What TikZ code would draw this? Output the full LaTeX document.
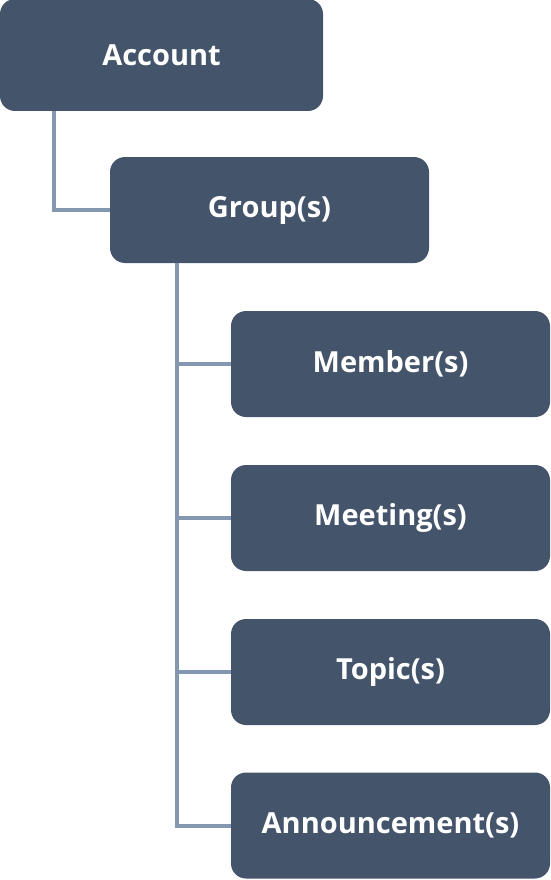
\documentclass[tikz,border=0pt]{standalone}
\usepackage{fontspec}
\setmainfont{Open Sans}
\usetikzlibrary{positioning}
\definecolor{boxfill}{HTML}{44546A}
\definecolor{linkline}{HTML}{8497B0}
\tikzset{
  entity/.style={fill=boxfill, rounded corners=15pt, text=white, align=center,
    font=\fontsize{29}{34}\selectfont\bfseries, minimum height=106pt, minimum width=319pt, inner sep=0pt},
  link/.style={draw=linkline, line width=4pt}
}
\begin{document}
\begin{tikzpicture}[x=1pt, y=-1pt]
\useasboundingbox (0,0) rectangle (550,880);
\node[entity, minimum width=323pt, minimum height=112pt] (acct) at (161.5,55) {Account};
\node[entity] (grp) at (269.5,210) {Group(s)};
\node[entity] (mem) at (390.5,364) {Member(s)};
\node[entity] (meet) at (390.5,518) {Meeting(s)};
\node[entity] (topic) at (390.5,672) {Topic(s)};
\node[entity] (ann) at (390.5,825.5) {Announcement(s)};

\coordinate (trunkA) at (54,0);
\coordinate (trunkB) at (177,0);

\draw[link] (acct.south -| trunkA) |- (grp.west);
\draw[link] (grp.south -| trunkB) |- (ann.west);
\draw[link] (trunkB |- mem.west) -- (mem.west);
\draw[link] (trunkB |- meet.west) -- (meet.west);
\draw[link] (trunkB |- topic.west) -- (topic.west);
\end{tikzpicture}
\end{document}
